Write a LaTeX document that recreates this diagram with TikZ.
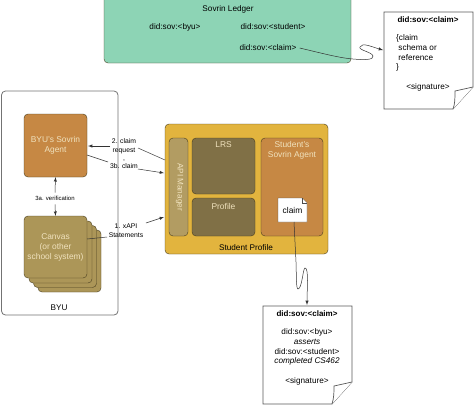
\documentclass[tikz,border=0pt]{standalone}
\usepackage{fontspec}
\setmainfont{Liberation Sans}
\definecolor{ledgergreen}{RGB}{141,212,181}
\definecolor{agentbrown}{RGB}{198,136,68}
\definecolor{canvastan}{RGB}{172,150,88}
\definecolor{profilegold}{RGB}{226,180,62}
\definecolor{storeolive}{RGB}{128,112,70}
\definecolor{apitan}{RGB}{178,156,98}
\definecolor{edgedark}{RGB}{70,60,30}
\definecolor{textpale}{RGB}{240,226,190}
\begin{document}
\begin{tikzpicture}[
  x=1pt,y=-1pt,
  every node/.style={font=\fontsize{8.2}{9.7}\selectfont,inner sep=0pt},
  panel/.style={draw=edgedark,rounded corners=4pt,minimum width=#1},
  arrow/.style={-latex,black!80,line width=0.5pt},
  lead/.style={black!80,line width=0.5pt},
  paletext/.style={text=textpale,align=center,font=\fontsize{8.4}{10}\selectfont},
  doc/.style={draw=black!65,fill=white,line width=0.7pt},
  label/.style={align=center,font=\fontsize{6.8}{8.5}\selectfont}
]
  \useasboundingbox (0,0) rectangle (474,405);
  % ledger
  \path[clip] (0,0) rectangle (474,405);
  \draw[draw=edgedark,fill=ledgergreen,rounded corners=4pt] (104,-8) rectangle (351,63);
  \node (ledgertitle) at (228,9) {Sovrin Ledger};
  \node (didbyu) at (175,27) {did:sov:<byu>};
  \node (didstudent) at (273,27) {did:sov:<student>};
  \node (didclaim) at (268,48) {did:sov:<claim>};
  % document on the right
  \draw[doc] (384,12) -- (473,12) -- (473,87) -- (453,109) -- (384,109) -- cycle;
  \draw[doc] (473,87) -- (455,91) .. controls (455,98) and (455,104) .. (453,109);
  \node[font=\fontsize{8}{9.6}\selectfont\bfseries] (docclaim) at (428,20) {did:sov:<claim>};
  \node[align=left,anchor=north west] (docbody) at (396,34.5) {\{claim\\\ schema or\\\ reference\\\}};
  \node (docsig) at (428,87) {<signature>};
  \coordinate (docin) at (383,50);
  \draw[arrow] ([xshift=3pt]didclaim.east) .. controls (325,54) and (340,58) .. (353,59) .. controls (364,60) and (374,60) .. (373,56) .. controls (372,52) and (358,50) .. (360,47) .. controls (362,42) and (372,47) .. (docin);
  % BYU
  \draw[draw=black!55,line width=0.8pt,rounded corners=4pt,fill=white] (1.5,91) rectangle (118,315);
  \node (byu) at (59,308) {BYU};
  \node[panel=63pt,fill=agentbrown,minimum height=63pt,paletext] (byuagent) at (55.5,145.5) {BYU's Sovrin\\Agent};
  \foreach \offs in {14,9.5,5}{
    \draw[draw=edgedark,fill=canvastan,rounded corners=4pt] (24+\offs,216+\offs) rectangle (87+\offs,278+\offs);
  }
  \node[panel=63pt,fill=canvastan,minimum height=62pt,paletext] (canvas) at (55.5,247) {Canvas\\(or other\\school system)};
  % student profile
  \node[panel=163pt,fill=profilegold,minimum height=130pt] (profilebox) at (246.5,189) {};
  \node (profiletitle) at (246,248) {Student Profile};
  \node[panel=19pt,fill=apitan,minimum height=98pt] (api) at (178.5,187) {};
  \node[rotate=-90,text=textpale] (apitext) at (179.5,187) {API Manager};
  \node[panel=63pt,fill=storeolive,minimum height=56pt] (lrs) at (223.5,166) {};
  \node[paletext] (lrstext) at (223.5,145) {LRS};
  \node[panel=63pt,fill=storeolive,minimum height=38pt] (profile) at (223.5,217) {};
  \node[paletext] (profiletext) at (223.5,206) {Profile};
  \node[panel=62pt,fill=agentbrown,minimum height=98pt] (studentagent) at (292,187) {};
  \node[paletext,anchor=north] (studenttext) at (292,141) {Student's\\Sovrin Agent};
  % claim
  \draw[draw=black!70,fill=white] (278,198) -- (302,198) -- (307,203) -- (307,222) -- (278,222) -- cycle;
  \draw[draw=black!70,fill=white] (302,198) -- (302,203) -- (307,203);
  \node[font=\fontsize{8.4}{10}\selectfont] (claim) at (292.5,210.5) {claim};
  % document at the bottom
  \draw[doc] (263,306) -- (352,306) -- (352,382) -- (332,404) -- (263,404) -- cycle;
  \draw[doc] (352,382) -- (334,386) .. controls (334,392) and (334,398) .. (332,404);
  \node[font=\fontsize{8}{9.6}\selectfont\bfseries] (bottomclaim) at (307,314) {did:sov:<claim>};
  \node[align=center,anchor=north] (bottombody) at (307,328.5) {did:sov:<byu>\\\textit{asserts}\\did:sov:<student>\\\textit{completed CS462}};
  \node (bottomsig) at (307,381) {<signature>};
  \coordinate (bottomin) at (307,305);
  \draw[arrow] (294,222) -- (296,262) .. controls (296.5,275) and (296,289) .. (298,289) .. controls (302,289) and (303,268) .. (305,268) .. controls (309,268) and (307,290) .. (bottomin);
  % connectors
  \node[label] (claimreq) at (124,150) {2. claim\\request\\,};
  \node[label] (claimthree) at (124,166) {3b. claim};
  \node[label] (xapi) at (126,230.5) {1. xAPI\\Statements};
  \node[label,font=\fontsize{6}{7}\selectfont] (verify) at (55,198) {3a. verification};
  \coordinate (apireq) at (165,160);
  \coordinate (apiclaim) at (164,173);
  \coordinate (apixapi) at (164,217);
  \coordinate (agentreq) at (88,146);
  \coordinate (agentclaim) at (87,155);
  \coordinate (canvasout) at (87,239);
  \draw[lead] (apireq) -- (138,148);
  \draw[arrow] (110,146) -- (agentreq);
  \draw[lead] (agentclaim) -- (108,162);
  \draw[arrow] (138,169) -- (apiclaim);
  \draw[lead] (canvasout) -- (107,237);
  \draw[arrow] (146,223) -- (apixapi);
  \draw[arrow] ([yshift=3pt]verify.north) -- (byuagent.south);
  \draw[arrow] ([yshift=-4pt]verify.south) -- (canvas.north);
\end{tikzpicture}
\end{document}
